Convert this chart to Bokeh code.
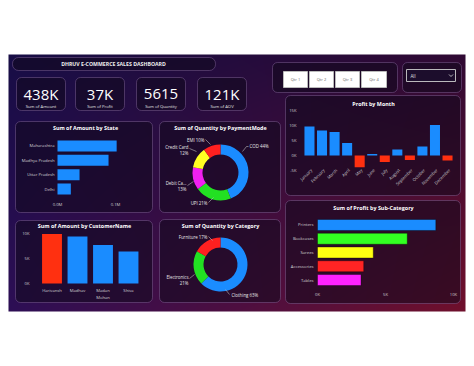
import numpy as np
from math import pi
from bokeh.plotting import figure
from bokeh.models import Range1d, LinearScale, BoxAnnotation
from bokeh.core.properties import value
from bokeh.embed import file_html
from bokeh.resources import INLINE

# ---------------- data ----------------
dashboard_title = "DHRUV E-COMMERCE SALES DASHBOARD"
kpi_values = ["438K", "37K", "5615", "121K"]
kpi_labels = ["Sum of Amount", "Sum of Profit", "Sum of Quantity", "Sum of AOV"]
quarters = ["Qtr 1", "Qtr 2", "Qtr 3", "Qtr 4"]
dropdown_value = "All"

states = ["Maharashtra", "Madhya Pradesh", "Uttar Pradesh", "Delhi"]
state_amount = [102000, 88000, 38000, 23000]
state_ticks = [0, 100000]
state_tick_labels = ["0.0M", "0.1M"]

pay_modes = ["COD", "UPI", "Debit Card", "Credit Card", "EMI"]
pay_display = ["COD", "UPI", "Debit Ca...", "Credit Card", "EMI"]
pay_qty = [2471, 1179, 730, 674, 561]

months = ["January", "February", "March", "April", "May", "June", "July",
          "August", "September", "October", "November", "December"]
month_profit = [9700, 8300, 7800, 4200, -3900, 500, -2200, 2000, -1500, 3000, 10200, -1700]
month_ticks = [15000, 10000, 5000, 0, -5000]
month_tick_labels = ["15K", "10K", "5K", "0K", "-5K"]

customers = ["Harivansh", "Madhav", "Madan\nMohan", "Shiva"]
customer_amount = [9900, 9400, 7700, 6400]
cust_ticks = [10000, 5000, 0]
cust_tick_labels = ["10K", "5K", "0K"]

categories = ["Clothing", "Electronics", "Furniture"]
cat_qty = [3516, 1154, 945]

subcats = ["Printers", "Bookcases", "Sarees", "Accessories", "Tables"]
subcat_profit = [8700, 6600, 4100, 3400, 3200]
subcat_ticks = [0, 5000, 10000]
subcat_tick_labels = ["0K", "5K", "10K"]

# ---------------- styles ----------------
FONT = value("Open Sans")
BLUE = "#1a8cff"
RED = "#ff3010"
GREEN = "#22e022"
YELLOW = "#ffff22"
MAGENTA = "#f020f0"
pay_colors = [BLUE, GREEN, MAGENTA, YELLOW, "#ff2020"]
cat_colors = [BLUE, GREEN, "#ff2020"]
subcat_colors = [BLUE, "#33ff22", "#ffff11", "#ff2424", "#ff22ff"]
TICK = "#d0d0d0"

W, H = 466, 358
p = figure(width=W, height=H, x_range=Range1d(0, W), y_range=Range1d(-H, 0),
           x_axis_type=None, y_axis_type=None, output_backend="svg", toolbar_location=None,
           min_border=0, min_border_left=0, min_border_right=0, min_border_top=0,
           min_border_bottom=0)
p.outline_line_color = None
p.background_fill_color = "white"
p.border_fill_color = "white"


def sub(xs=(0, 1), xt=(0, 1), ys=(0, 1), yt=(0, 1)):
    return p.subplot(x_source=Range1d(*xs), x_target=Range1d(*xt),
                     y_source=Range1d(*ys), y_target=Range1d(*yt),
                     x_scale=LinearScale(), y_scale=LinearScale())


# ---------------- background gradient ----------------
gw, gh = 457, 257
xx = np.linspace(0, 1, gw)[None, :]
yy = np.linspace(0, 1, gh)[:, None]  # 0 bottom, 1 top
tl = np.array([24, 14, 70.]); tr = np.array([48, 10, 52.])
bl = np.array([45, 14, 85.]); br = np.array([112, 16, 44.])
img = np.zeros((gh, gw), dtype=np.uint32)
view = img.view(dtype=np.uint8).reshape((gh, gw, 4))
for k in range(3):
    ch = bl[k] * (1 - xx) * (1 - yy) + br[k] * xx * (1 - yy) + tl[k] * (1 - xx) * yy + tr[k] * xx * yy
    view[..., k] = np.clip(ch, 0, 255).astype(np.uint8)
view[..., 3] = 255
p.image_rgba(image=[img], x=8, y=-311, dw=gw, dh=gh, level="image")


def box(l, t, r, b, fill="#100a1c", fa=0.55, line="#8a6aa0", la=0.45, rad=5, lw=1):
    p.add_layout(BoxAnnotation(left=l, right=r, top=-t, bottom=-b, fill_color=fill, fill_alpha=fa,
                               line_color=line, line_alpha=la, line_width=lw, border_radius=rad,
                               level="underlay"))


def txt(x, y, t, size="6px", color="white", align="center", style="normal", base="middle"):
    p.text(x=[x], y=[-y], text=[t], text_font=FONT, text_font_size=size, text_color=color,
           text_align=align, text_baseline=base, text_font_style=style)


# ---------------- header ----------------
box(12, 57, 215, 70, rad=6)
txt(113, 63.5, dashboard_title, size="5.2px", style="bold", color="#eeeeee")

kpi_x = [(16, 65), (75, 124), (136, 185), (197, 246)]
for (l, r), v, lab in zip(kpi_x, kpi_values, kpi_labels):
    box(l, 77, r, 110)
    txt((l + r) / 2, 93, v, size="15px")
    txt((l + r) / 2, 106, lab, size="4.2px", color="#e0e0e0")

box(272, 62, 397, 92)
btn_x = [(283, 307), (309, 333), (335, 359), (361, 386)]
for (l, r), q in zip(btn_x, quarters):
    box(l, 71, r, 87, fill="white", fa=1, line="#bbbbbb", la=1, rad=0)
    txt((l + r) / 2, 79, q, size="4px", color="#666666")

box(402, 62, 461, 92)
box(406, 69, 455, 81, fill="#1a1030", fa=0.6, line="#cccccc", la=0.9, rad=0)
txt(410, 75, dropdown_value, size="4.5px", color="#e0e0e0", align="left")
p.line([448.5, 450.5, 452.5], [-74, -76, -74], line_color="#dddddd", line_width=0.8)

# ---------------- panels ----------------
panels = [(15, 121, 152, 212), (159, 121, 280, 212), (285, 95, 460, 195),
          (15, 220, 152, 302), (159, 219, 280, 302), (285, 200, 460, 303)]
for pl in panels:
    box(*pl)

titles = [(85, 127, "Sum of Amount by State"), (220, 127, "Sum of Quantity by PaymentMode"),
          (373, 103, "Profit by Month"), (84, 225, "Sum of Amount by CustomerName"),
          (220, 225, "Sum of Quantity by Category"), (373, 207, "Sum of Profit by Sub-Category")]
for x, y, t in titles:
    txt(x, y, t, size="5.4px", style="bold")

# ---------------- State bar chart ----------------
sidx = list(range(len(states)))
s = sub(xs=(0, 100000), xt=(57, 115), ys=(-0.5, 3.5), yt=(-138.3, -195.7))
s.hbar(y=sidx, left=0, right=state_amount, height=0.77, fill_color=BLUE, line_color=None)
s.text(x=0, y=sidx, text=states, x_offset=-3, text_align="right", text_baseline="middle",
       text_font=FONT, text_font_size="4.2px", text_color=TICK)
sx = sub(xs=(0, 100000), xt=(57, 115))
sx.text(x=state_ticks, y=-204, text=state_tick_labels, text_align="center", text_baseline="middle",
        text_font=FONT, text_font_size="4.2px", text_color=TICK)


# ---------------- donuts ----------------
def donut(cx, cy, ro, ri, vals, colors):
    v = np.array(vals, dtype=float)
    frac = v / v.sum()
    cum = np.cumsum(frac)
    prev = np.concatenate([[0], cum[:-1]])
    start = pi / 2 - cum * 2 * pi
    end = pi / 2 - prev * 2 * pi
    p.annular_wedge(x=cx, y=-cy, inner_radius=ri, outer_radius=ro, start_angle=list(start),
                    end_angle=list(end), fill_color=colors, line_color=None)
    return [int(round(100 * f)) for f in frac]


pay_pct = donut(220, 172, 28, 18, pay_qty, pay_colors)
# label layout: (x, y, align, two_lines)
pay_lab_pos = [(249, 145, "left", False), (207, 202, "right", False), (186, 182, "right", True),
               (188, 146, "right", True), (204, 139, "right", False)]
pay_leaders = [[(242, 151), (246, 146), (248, 146)], [(208, 202), (213, 197)],
               [(187, 185), (193, 181)], [(189, 148), (196, 151)], [(205, 139), (210, 144)]]
for (x, y, al, two), name, pc in zip(pay_lab_pos, pay_display, pay_pct):
    if two:
        txt(x, y, name, size="4.4px", color="#e8e8e8", align=al)
        txt(x, y + 6, f"{pc}%", size="4.4px", color="#e8e8e8", align=al)
    else:
        txt(x, y, f"{name} {pc}%", size="4.4px", color="#e8e8e8", align=al)
for ld in pay_leaders:
    p.line([a for a, b in ld], [-b for a, b in ld], line_color="#bbbbbb", line_width=0.6)

cat_pct = donut(220, 264, 27, 17, cat_qty, cat_colors)
cat_lab_pos = [(231, 294, "left", False), (188, 276, "right", True), (207, 236, "right", False)]
cat_leaders = [[(225, 289), (229, 294)], [(189, 278), (194, 274)], [(208, 236), (212, 240)]]
for (x, y, al, two), name, pc in zip(cat_lab_pos, categories, cat_pct):
    if two:
        txt(x, y, name, size="4.4px", color="#e8e8e8", align=al)
        txt(x, y + 6, f"{pc}%", size="4.4px", color="#e8e8e8", align=al)
    else:
        txt(x, y, f"{name} {pc}%", size="4.4px", color="#e8e8e8", align=al)
for ld in cat_leaders:
    p.line([a for a, b in ld], [-b for a, b in ld], line_color="#bbbbbb", line_width=0.6)

# ---------------- Profit by Month ----------------
midx = list(range(len(months)))
mcolors = [BLUE if v >= 0 else RED for v in month_profit]
m = sub(xs=(-0.5, 11.5), xt=(302.7, 453.3), ys=(0, 5000), yt=(-155, -140))
m.vbar(x=midx, bottom=0, top=month_profit, width=0.8, fill_color=mcolors, line_color=None)
my = sub(ys=(0, 5000), yt=(-155, -140))
my.text(x=296, y=month_ticks, text=month_tick_labels, text_align="right", text_baseline="middle",
        text_font=FONT, text_font_size="4.2px", text_color=TICK)
mx = sub(xs=(-0.5, 11.5), xt=(302.7, 453.3))
mx.text(x=midx, y=-169, text=months, angle=pi / 4, x_offset=2, text_align="right",
        text_baseline="middle", text_font=FONT, text_font_size="4.2px", text_color=TICK)

# ---------------- Customer bar chart ----------------
cidx = list(range(len(customers)))
cmax = max(customer_amount)
ccolors = [RED if v == cmax else BLUE for v in customer_amount]
c = sub(xs=(-0.5, 3.5), xt=(38.75, 140.75), ys=(0, 5000), yt=(-283, -258))
c.vbar(x=cidx, bottom=0, top=customer_amount, width=0.78, fill_color=ccolors, line_color=None)
cx_ = sub(xs=(-0.5, 3.5), xt=(38.75, 140.75))
cx_.text(x=cidx, y=-287.5, text=customers, text_align="center", text_baseline="top",
         text_font=FONT, text_font_size="4.2px", text_color=TICK, text_line_height=1.3)
cy_ = sub(ys=(0, 5000), yt=(-283, -258))
cy_.text(x=29, y=cust_ticks, text=cust_tick_labels, text_align="right", text_baseline="middle",
         text_font=FONT, text_font_size="4.2px", text_color=TICK)

# ---------------- Sub-Category bar chart ----------------
scidx = list(range(len(subcats)))
sc = sub(xs=(0, 5000), xt=(317, 385), ys=(-0.5, 4.5), yt=(-217.6, -286.4))
sc.hbar(y=scidx, left=0, right=subcat_profit, height=0.8, fill_color=subcat_colors,
        line_color="#000000", line_alpha=0.45, line_width=0.8)
sc.text(x=0, y=scidx, text=subcats, x_offset=-4, text_align="right", text_baseline="middle",
        text_font=FONT, text_font_size="4.2px", text_color=TICK)
scx = sub(xs=(0, 5000), xt=(317, 385))
scx.text(x=subcat_ticks, y=-294, text=subcat_tick_labels, text_align="center",
         text_baseline="middle", text_font=FONT, text_font_size="4.2px", text_color=TICK)

open("out.html", "w").write(file_html(p, INLINE))
